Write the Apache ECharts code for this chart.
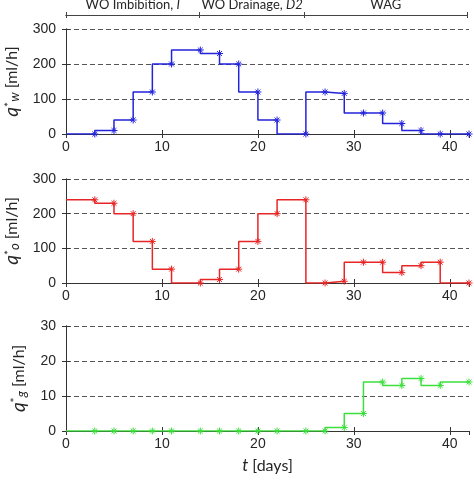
<!DOCTYPE html>
<html>
<head>
<meta charset="utf-8">
<script src="https://cdn.jsdelivr.net/npm/echarts@6/dist/echarts.min.js"></script>
<style>
html, body { margin: 0; padding: 0; background: #fff; }
#main { width: 474px; height: 482px; }
</style>
</head>
<body>
<div id="main"></div>
<script>
// data
var days = [0, 3, 5, 7, 9, 11, 14, 16, 18, 20, 22, 25, 27, 29, 31, 33, 35, 37, 39, 42];
var qw = [0, 0, 10, 40, 120, 200, 240, 230, 200, 120, 40, 0, 120, 116, 60, 60, 30, 10, 0, 0];
var qo = [240, 240, 230, 200, 120, 40, 0, 10, 40, 120, 200, 240, 0, 5, 60, 60, 30, 50, 60, 0];
var qg = [0, 0, 0, 0, 0, 0, 0, 0, 0, 0, 0, 0, 0, 1, 5, 14, 13, 15, 13, 14];
var xTicks = [0, 10, 20, 30, 40];
var xMax = 42;
var rateTicks = [0, 100, 200, 300];
var gasTicks = [0, 10, 20, 30];
var phaseBounds = [0, 14, 25, 42];
var phaseNames = ['WO Imbibition, ', 'WO Drainage, ', 'WAG'];
var phaseSymbols = ['I', 'D2', ''];

var myChart = echarts.init(document.getElementById('main'));

var axisColor = '#333';
var textColor = '#262626';
var labelFont = 'Liberation Sans';
var nameFont = 'Lato';
var star = 'path://M0,5L10,5M5,0L5,10M1.5,1.5L8.5,8.5M8.5,1.5L1.5,8.5';

var phaseMids = [];
for (var i = 0; i < phaseNames.length; i++) {
	phaseMids.push((phaseBounds[i] + phaseBounds[i + 1]) / 2);
}

function points(vals) {
	return days.map(function (d, i) {
		if (i === 0) return { value: [d, vals[i]], symbol: 'none' };
		return [d, vals[i]];
	});
}

var grids = [
	{ left: 66, right: 5, top: 29, height: 105, outerBoundsMode: 'none', containLabel: false },
	{ left: 66, right: 5, top: 179, height: 104, outerBoundsMode: 'none', containLabel: false },
	{ left: 66, right: 5, top: 326, height: 105, outerBoundsMode: 'none', containLabel: false },
	{ left: 66, right: 7, top: 15, height: 0, outerBoundsMode: 'none', containLabel: false }
];

function mainX(g) {
	var ax = {
		type: 'value', gridIndex: g, position: 'bottom',
		min: 0, max: xMax, interval: xTicks[1] - xTicks[0],
		axisLine: { show: true, lineStyle: { color: axisColor, width: 1 } },
		axisTick: { show: true, inside: true, length: 4, lineStyle: { color: axisColor } },
		axisLabel: { color: textColor, fontSize: 14, fontFamily: labelFont, margin: 6, showMaxLabel: false },
		splitLine: { show: false }
	};
	if (g === 2) {
		ax.name = '{t|t} [days]';
		ax.nameLocation = 'middle';
		ax.nameGap = 26;
		ax.nameTextStyle = {
			color: textColor, fontSize: 16, fontFamily: nameFont,
			rich: { t: { fontStyle: 'italic', fontSize: 17, fontFamily: nameFont, color: textColor } }
		};
	}
	return ax;
}

function mirrorX(g) {
	return {
		type: 'value', gridIndex: g, position: 'top',
		min: 0, max: xMax, interval: xTicks[1] - xTicks[0],
		axisLine: { show: true, lineStyle: { color: axisColor, width: 1 } },
		axisTick: { show: true, inside: true, length: 4, lineStyle: { color: axisColor } },
		axisLabel: { show: false },
		splitLine: { show: false }
	};
}

function mainY(g, ticks, sub) {
	return {
		type: 'value', gridIndex: g, position: 'left',
		min: ticks[0], max: ticks[ticks.length - 1], interval: ticks[1] - ticks[0],
		axisLine: { show: true, lineStyle: { color: axisColor, width: 1 } },
		axisTick: { show: true, inside: true, length: 4, lineStyle: { color: axisColor } },
		axisLabel: { color: textColor, fontSize: 14, fontFamily: labelFont, margin: 10 },
		splitLine: { show: true, lineStyle: { color: '#555', width: 1, type: [5, 3] } },
		name: '{q|q}{s|*}{b|' + sub + '}{n| [ml/h]}',
		nameLocation: 'middle',
		nameRotate: 90,
		nameGap: 38,
		nameTextStyle: {
			color: textColor, fontSize: 16, fontFamily: nameFont,
			rich: {
				q: { fontStyle: 'italic', fontSize: 19, fontFamily: nameFont, color: textColor, lineHeight: 19 },
				s: { fontSize: 12, fontFamily: nameFont, color: textColor, verticalAlign: 'top', lineHeight: 19 },
				b: { fontStyle: 'italic', fontSize: 13, fontFamily: nameFont, color: textColor, verticalAlign: 'bottom', lineHeight: 19 },
				n: { fontSize: 16, fontFamily: nameFont, color: textColor, lineHeight: 19 }
			}
		}
	};
}

function mirrorY(g, ticks) {
	return {
		type: 'value', gridIndex: g, position: 'right',
		min: ticks[0], max: ticks[ticks.length - 1], interval: ticks[1] - ticks[0],
		axisLine: { show: true, lineStyle: { color: axisColor, width: 1 } },
		axisTick: { show: true, inside: true, length: 4, lineStyle: { color: axisColor } },
		axisLabel: { show: false },
		splitLine: { show: false }
	};
}

function stairs(name, vals, color, g) {
	return {
		name: name, type: 'line', step: 'start',
		xAxisIndex: g, yAxisIndex: g,
		data: points(vals),
		symbol: star, symbolSize: 7, showSymbol: true,
		lineStyle: { color: color, width: 1.5 },
		itemStyle: { color: color, borderColor: color, borderWidth: 1 },
		animation: false
	};
}

var option = {
	backgroundColor: '#fff',
	animation: false,
	grid: grids,
	xAxis: [
		mainX(0), mainX(1), mainX(2),
		mirrorX(0), mirrorX(1), mirrorX(2),
		{
			type: 'value', gridIndex: 3, position: 'top',
			min: 0, max: xMax,
			axisLine: { show: true, lineStyle: { color: '#444', width: 1 } },
			axisTick: { show: true, length: 3, customValues: phaseBounds, lineStyle: { color: '#444' } },
			axisLabel: {
				show: true, margin: 4, customValues: phaseMids,
				color: textColor, fontSize: 13, fontFamily: nameFont,
				formatter: function (v) {
					var k = phaseMids.indexOf(v);
					if (k < 0) return '';
					return phaseSymbols[k] ? phaseNames[k] + '{i|' + phaseSymbols[k] + '}' : phaseNames[k];
				},
				rich: { i: { fontStyle: 'italic', fontSize: 13, fontFamily: nameFont, color: textColor } }
			},
			splitLine: { show: false }
		},
		{
			type: 'value', gridIndex: 3, position: 'bottom',
			min: 0, max: xMax,
			axisLine: { show: true, lineStyle: { color: '#444', width: 1 } },
			axisTick: { show: true, length: 3, customValues: phaseBounds, lineStyle: { color: '#444' } },
			axisLabel: { show: false },
			splitLine: { show: false }
		}
	],
	yAxis: [
		mainY(0, rateTicks, 'w'), mainY(1, rateTicks, 'o'), mainY(2, gasTicks, 'g'),
		mirrorY(0, rateTicks), mirrorY(1, rateTicks), mirrorY(2, gasTicks),
		{ type: 'value', gridIndex: 3, show: false, min: 0, max: 1 }
	],
	series: [
		stairs('qw', qw, '#2323dc', 0),
		stairs('qo', qo, '#e82626', 1),
		stairs('qg', qg, '#3ce03c', 2)
	]
};

myChart.setOption(option);
</script>
</body>
</html>
